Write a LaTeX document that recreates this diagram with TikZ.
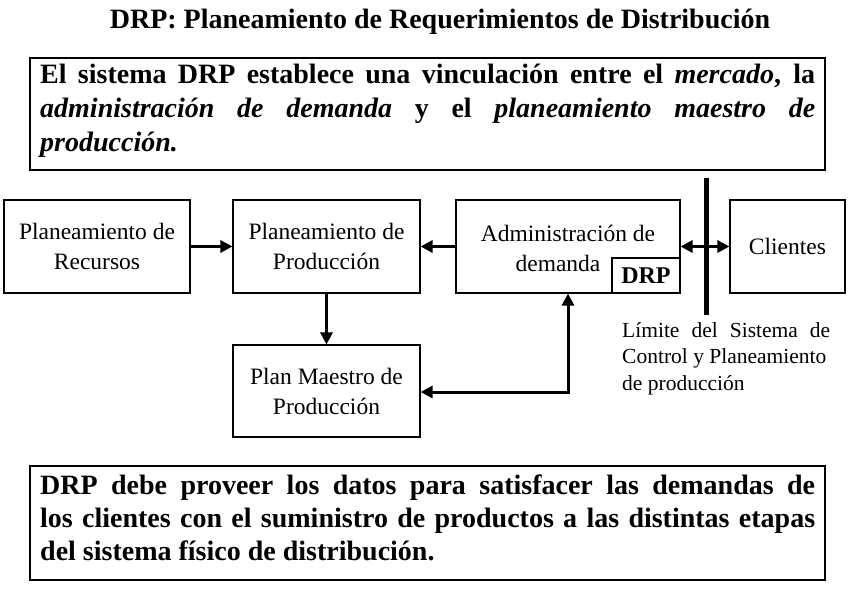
\documentclass[tikz,border=0pt]{standalone}
\usepackage{fontspec}
\setmainfont{Liberation Serif}
\usetikzlibrary{arrows.meta}
\begin{document}
\begin{tikzpicture}[x=1pt,y=-1pt,
  bx/.style={draw,line width=1.1pt},
  nd/.style={bx,align=center,font=\fontsize{23.5}{30}\selectfont,inner sep=0pt},
  ar/.style={line width=3pt,-{Triangle[length=12pt,width=12pt]}},
  dar/.style={line width=3pt,{Triangle[length=12pt,width=12pt]}-{Triangle[length=12pt,width=12pt]}}]
\useasboundingbox (0,0) rectangle (852,589);
\node[font=\bfseries\fontsize{28}{32}\selectfont] (title) at (440,22) {DRP: Planeamiento de Requerimientos de Distribución};
\draw[bx] (30,58) rectangle (825,170);
\node[anchor=north west,inner sep=0pt,font=\bfseries\fontsize{28}{34}\selectfont,align=left] (t1) at (40,64) {%
\makebox[775pt][s]{El sistema DRP establece una vinculación entre el \textit{mercado}, la}\\
\makebox[775pt][s]{\textit{administración de demanda} y el \textit{planeamiento maestro de}}\\
\textit{producción.}};
\node[nd,minimum width=186pt,minimum height=93pt] (rec) at (97,246.5) {Planeamiento de\\Recursos};
\node[nd,minimum width=187pt,minimum height=93pt] (prod) at (326.5,246.5) {Planeamiento de\\Producción};
\node[nd,minimum width=224pt,minimum height=93pt] (adm) at (568,246.5) {};
\node[font=\fontsize{23.5}{30}\selectfont,align=center,inner sep=0pt] (admt) at (568,248) {Administración de\\\hspace*{-20pt}demanda};
\node[bx,fill=white,minimum width=68pt,minimum height=35pt,inner sep=0pt,font=\bfseries\fontsize{24}{28}\selectfont] (drp) at (646,275.5) {DRP};
\node[nd,minimum width=115pt,minimum height=93pt] (cli) at (787.5,246.5) {Clientes};
\node[nd,minimum width=187pt,minimum height=92pt] (pm) at (326.5,391) {Plan Maestro de\\Producción};
\coordinate (l1) at (706,178); \coordinate (l2) at (706,315);
\draw[line width=5pt] (l1) -- (l2);
\node[anchor=north west,inner sep=0pt,align=left,font=\fontsize{21.5}{26.5}\selectfont] (lim) at (622,322) {%
\makebox[208pt][s]{Límite del Sistema de}\\Control y Planeamiento\\de producción};
\draw[ar] (rec) -- (prod);
\draw[ar] (adm) -- (prod);
\draw[dar] (adm) -- (cli);
\draw[ar] (prod) -- (pm);
\coordinate (c) at (568,392);
\draw[dar] (pm.east |- c) -- (c) -- (adm.south);
\draw[bx] (30,466) rectangle (825,580);
\node[anchor=north west,inner sep=0pt,font=\bfseries\fontsize{28}{33}\selectfont,align=left] (t2) at (40,475) {%
\makebox[775pt][s]{DRP debe proveer los datos para satisfacer las demandas de}\\
\makebox[775pt][s]{los clientes con el suministro de productos a las distintas etapas}\\
del sistema físico de distribución.};
\end{tikzpicture}
\end{document}
